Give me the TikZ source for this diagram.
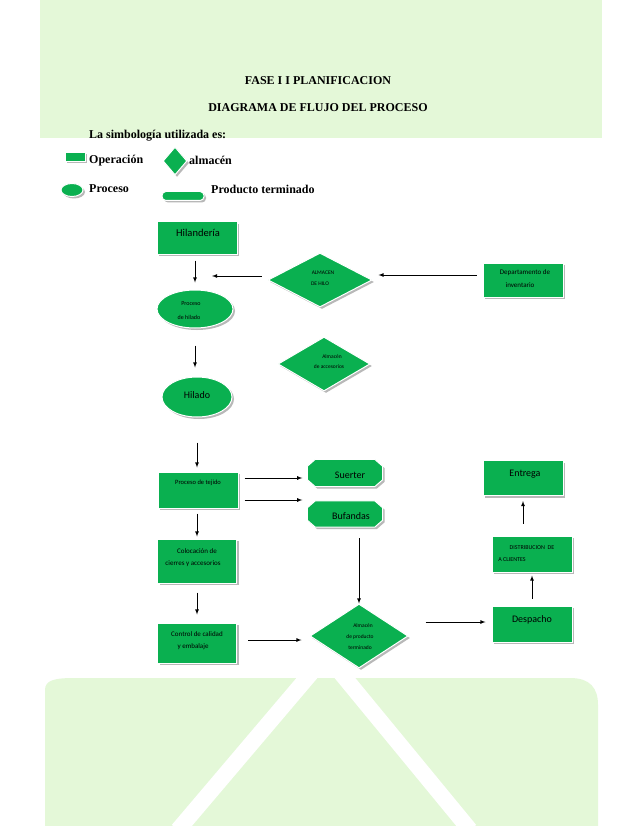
\documentclass[tikz,border=0pt]{standalone}
\usepackage{fontspec}
\setmainfont{Liberation Serif}
\newfontfamily\carl{Carlito}
\usetikzlibrary{positioning,shapes.geometric,shadows,arrows}
\definecolor{verde}{RGB}{10,176,80}
\definecolor{marca}{RGB}{228,248,216}

\tikzset{
  sombra/.style={general shadow={fill=black!28,shadow xshift=2pt,shadow yshift=-2pt}},
  oper/.style={rectangle,fill=verde,draw=white,line width=1pt,sombra},
  proc/.style={ellipse,fill=verde,draw=white,line width=1pt,sombra},
  alm/.style={diamond,fill=verde,draw=white,line width=1pt,sombra},
  prod/.style={rectangle},
  barra/.style={rectangle,rounded corners=4pt,fill=verde,draw=white,line width=1pt,sombra},
  txt/.style={font=\carl\fontsize{#1}{#1}\selectfont},
  tit/.style={font=\bfseries\fontsize{12}{14}\selectfont},
  flecha/.style={-latex,line width=0.8pt}
}
\newcommand{\octa}[1]{%
  \draw[fill=verde,draw=white,line width=1pt,sombra]
    ([xshift=8pt]#1.north west) -- ([xshift=-8pt]#1.north east) -- ([yshift=-7pt]#1.north east)
    -- ([yshift=7pt]#1.south east) -- ([xshift=-8pt]#1.south east) -- ([xshift=8pt]#1.south west)
    -- ([yshift=7pt]#1.south west) -- ([yshift=-7pt]#1.north west) -- cycle;}

\begin{document}
\begin{tikzpicture}[x=1pt,y=-1pt]
\tikzstyle{every node}+=[inner sep=0pt]
\useasboundingbox (0,0) rectangle (638,826);
\fill[white] (0,0) rectangle (638,826);
\fill[marca] (40,0) rectangle (602,138);
\fill[marca] (45,690) .. controls (45,680) and (55,678) .. (75,678) -- (570,678) .. controls (590,678) and (598,688) .. (598,705) -- (598,826) -- (45,826) -- cycle;
\draw[white,line width=16pt] (312,672) -- (178,830);
\draw[white,line width=16pt] (340,672) -- (470,830);
\fill[white] (89,209) rectangle (583,678);

\node[tit] (t1) at (318,81) {FASE I I PLANIFICACION};
\node[tit] (t2) at (318,108) {DIAGRAMA DE FLUJO DEL PROCESO};
\node[tit,anchor=west] (t3) at (89,136) {La simbología utilizada es:};

\node[oper,minimum width=20pt,minimum height=9pt] (s1) at (75,157) {};
\node[tit,anchor=west] (s1t) at (89,161) {Operación};
\node[alm,minimum width=24pt,minimum height=28pt] (s2) at (175,161) {};
\node[tit,anchor=west] (s2t) at (189,160) {almacén};
\node[proc,minimum width=22pt,minimum height=13pt] (s3) at (72,190) {};
\node[tit,anchor=west] (s3t) at (89,189) {Proceso};
\node[barra,minimum width=42pt,minimum height=9pt] (s4) at (183,196) {};
\node[tit,anchor=west] (s4t) at (211,189) {Producto terminado};

\node[oper,minimum width=80pt,minimum height=32pt] (hil) at (197,238) {};
\node[txt=10.5] (hilt) at (198,233) {Hilandería};
\node[proc,minimum width=76pt,minimum height=38pt] (phil) at (195,309) {};
\node[txt=6] (philt) at (191,304) {Proceso};
\node[txt=6] (philu) at (189,317) {de hilado};
\node[alm,minimum width=104pt,minimum height=54pt] (ahilo) at (320,280) {};
\node[txt=5.5] (ahilot) at (323,273) {ALMACEN};
\node[txt=5.5] (ahilou) at (320,284) {DE HILO};
\node[oper,minimum width=80pt,minimum height=34pt] (dep) at (523,280) {};
\node[txt=7] (dept) at (525,273) {Departamento de};
\node[txt=7] (depu) at (520,285) {inventario};
\node[alm,minimum width=92pt,minimum height=54pt] (acc) at (324,364) {};
\node[txt=5.5] (acct) at (332,357) {Almacén};
\node[txt=5.5] (accu) at (329,367) {de accesorios};
\node[proc,minimum width=70pt,minimum height=40pt] (hdo) at (197,397) {};
\node[txt=10] (hdot) at (197,395) {Hilado};

\node[oper,minimum width=80pt,minimum height=36pt] (tej) at (198,490) {};
\node[txt=6.5] (tejt) at (198,483) {Proceso de tejido};
\node[prod,minimum width=75pt,minimum height=27pt] (sue) at (345,473) {};
\octa{sue}
\node[txt=10] (suet) at (350,475) {Suerter};
\node[prod,minimum width=75pt,minimum height=26pt] (buf) at (345,514) {};
\octa{buf}
\node[txt=10] (buft) at (351,516) {Bufandas};
\node[oper,minimum width=79pt,minimum height=44pt] (col) at (197,561) {};
\node[txt=7] (colt) at (197,551) {Colocación de};
\node[txt=7] (colu) at (193,564) {cierres y accesorios};
\node[oper,minimum width=79pt,minimum height=40pt] (ctl) at (197,643) {};
\node[txt=7] (ctlt) at (197,634) {Control de calidad};
\node[txt=7] (ctlu) at (193,647) {y embalaje};
\node[alm,minimum width=98pt,minimum height=64pt] (apt) at (359,636) {};
\node[txt=5.5] (aptt) at (363,626) {Almacén};
\node[txt=5.5] (aptu) at (360,637) {de producto};
\node[txt=5.5] (aptv) at (360,648) {terminado};

\node[oper,minimum width=80pt,minimum height=35pt] (ent) at (523,478) {};
\node[txt=10] (entt) at (525,474) {Entrega};
\node[oper,minimum width=80pt,minimum height=36pt] (dis) at (532,554) {};
\node[txt=6] (dist) at (532,548) {DISTRIBUCION\ \ DE};
\node[txt=6] (disu) at (512,560) {A CLIENTES};
\node[oper,minimum width=80pt,minimum height=36pt] (des) at (532,624) {};
\node[txt=10] (dest) at (532,620) {Despacho};

\coordinate (h1) at (212,276);
\coordinate (t1a) at ([yshift=12pt]tej.east);
\coordinate (t1b) at ([yshift=-10pt]tej.east);
\coordinate (c1) at ([yshift=3pt]ctl.east);
\coordinate (d1) at ([yshift=2pt]des.west);

\draw[flecha,shorten <=6pt,shorten >=7pt] (hil.south -| phil) -- (phil.north);
\draw[flecha,shorten <=6pt] (ahilo.west |- h1) -- (h1);
\draw[flecha,shorten <=6pt,shorten >=6pt] ([yshift=5pt]dep.west) -- ([yshift=5pt]dep.west -| ahilo.east);
\draw[flecha,shorten <=17pt,shorten >=9pt] (phil.south) -- (phil.south |- hdo.north);
\draw[flecha,shorten <=25pt,shorten >=4pt] (hdo.south) -- (hdo.south |- tej.north);
\draw[flecha,shorten <=6pt,shorten >=5pt] (t1a) -- (t1a -| sue.west);
\draw[flecha,shorten <=6pt,shorten >=5pt] (t1b) -- (t1b -| buf.west);
\draw[flecha,shorten <=5pt,shorten >=2pt] (tej.south -| col) -- (col.north);
\draw[flecha,shorten <=9pt,shorten >=8pt] (col.south) -- (ctl.north);
\draw[flecha,shorten <=11pt,shorten >=8pt] (c1) -- (c1 -| apt.west);
\draw[flecha,shorten <=11pt] (buf.south -| apt) -- (apt.north);
\draw[flecha,shorten <=17pt,shorten >=6pt] (d1 -| apt.east) -- (d1);
\draw[flecha,shorten <=7pt,shorten >=3pt] (des.north) -- (dis.south);
\draw[flecha,shorten <=12pt,shorten >=5pt] (dis.north -| ent.south) -- (ent.south);
\end{tikzpicture}
\end{document}
